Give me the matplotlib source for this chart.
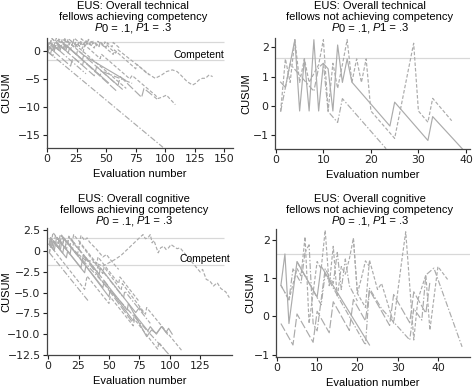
import matplotlib

matplotlib.use("Agg")
import matplotlib.pyplot as plt
from matplotlib import font_manager as fm
from matplotlib.offsetbox import AnnotationBbox, HPacker, TextArea

plt.rcParams.update(
    {
        "font.family": "Liberation Sans",
        "font.size": 7.5,
        "axes.spines.top": False,
        "axes.spines.right": False,
    }
)


def find_face(style):
    # pick the normal-width Liberation Sans file, not the Narrow one
    for f in fm.fontManager.ttflist:
        if (f.name == "Liberation Sans" and "narrow" not in f.fname.lower()
                and f.style == style and f.weight in (400, "normal", "regular")):
            return f.fname
    return None


REG_FILE = find_face("normal")
ITA_FILE = find_face("italic")


def fp(size, italic=False):
    path = ITA_FILE if italic else REG_FILE
    if path:
        return fm.FontProperties(fname=path, size=size)
    return fm.FontProperties(family="Liberation Sans", style="italic" if italic else "normal",
                             size=size)


LINE = "#ababab"
REF = "#d8d8d8"
DASH = {
    "s": "-",
    "d": (0, (3, 1.6)),
    "dd": (0, (5, 1.6, 1.2, 1.6)),
    "ld": (0, (7, 2)),
}

H_UP = 1.63
H_LO = -1.63

# ---- top left: technical, achieving competency
TL1_X = [1, 98]
TL1_Y = [-0.19, -17.2]
TL2_X = [1, 4, 5, 9, 10, 14, 15, 20, 22, 26, 27, 31, 32, 36, 37, 42, 43, 48, 49, 53, 58, 60,
         87, 91.5, 97, 101, 106, 110, 113, 118.5, 123, 125.6, 128.4, 131.3, 134, 137, 140]
TL2_Y = [0.81, 0.25, 1.06, 0.3, 1.1, 0.35, 1.15, 0.25, 1.6, 0.85, 1.66, 0.9, 1.72, 0.95, 1.8, 0.9,
         1.7, 0.8, 1.6, 0.5, -0.4, 0.2, -4.3, -4.9, -4.3, -3.7, -3.4, -3.7, -4.3, -5.5, -6.1, -5.8,
         -5.2, -4.9, -4.9, -4.3, -4.6]
TL3_X = [1, 3, 4, 7, 8, 12, 13, 18, 19, 24, 25, 30, 31, 36, 45, 46, 70, 72, 91.5, 94, 98, 101, 108.5]
TL3_Y = [0.81, 0.43, 1.24, 0.7, 1.5, 0.75, 1.55, 0.6, 1.4, 0.5, 1.3, 0.4, 1.2, 0.3, -1.4, -0.6,
         -5.0, -4.4, -7.9, -8.5, -8.2, -7.9, -9.6]
TL4_X = [1, 3, 4, 6, 7, 10, 11, 15, 16, 20, 59]
TL4_Y = [-0.19, -0.56, 0.25, -0.12, 0.7, 0.14, 0.95, 0.2, 1.0, 0.25, -7.2]
TL5_X = [1, 2, 3, 4, 8, 9, 14, 15, 19, 20, 26, 67]
TL5_Y = [0.81, 1.62, 1.43, 2.2, 1.45, 2.0, 1.1, 1.9, 1.15, 1.8, 0.7, -6.7]
TL6_X = [1, 2, 3, 7, 8, 13, 30, 31, 45, 46, 72]
TL6_Y = [-0.19, 0.62, 1.43, 0.7, 1.5, 0.57, -2.6, -1.8, -4.4, -3.6, -5.8]
TL7_X = [1, 5, 6, 11, 12, 16, 17, 30, 31, 66]
TL7_Y = [0.81, 0.07, 0.88, -0.05, 0.77, 0.03, 0.85, -1.6, -0.8, -5.2]
TL8_X = [1, 5, 6, 20, 21, 22, 40, 41, 42, 60, 61, 62, 80, 81, 82, 93]
TL8_Y = [-0.19, -0.93, -0.12, -2.72, -1.9, -1.1, -4.45, -3.64, -2.83, -6.2, -5.4, -4.6, -8.3,
         -7.5, -6.7, -8.6]
TL9_X = [1, 2, 6, 7, 12, 13, 17, 18, 23, 24, 28, 29, 33, 34, 38, 39, 44, 45, 50, 56, 57, 75, 76, 86]
TL9_Y = [0.81, 1.62, 0.88, 1.69, 0.76, 1.57, 0.83, 1.64, 0.7, 1.51, 0.77, 1.58, 0.84, 1.65, 0.9,
         1.71, 0.78, 1.59, 0.47, -0.65, 0.16, -3.2, -2.4, -4.3]
TL10_X = [1, 2, 6, 7, 12, 33]
TL10_Y = [-0.19, 0.62, -0.12, 0.7, -0.23, -4.1]
TL11_X = [1, 3, 4, 9, 10, 14, 15, 52]
TL11_Y = [0.81, 0.44, 1.25, 0.32, 1.13, 0.39, 1.2, -5.7]
TL12_X = [1, 2, 3, 8, 9, 10, 14, 15, 30, 31, 32, 33, 40, 41, 44, 45, 50, 51, 55, 56, 62]
TL12_Y = [0.81, 1.62, 1.43, 0.5, 1.3, 2.1, 1.36, 2.17, -0.6, 0.2, 1.0, 1.8, 0.5, 1.3, 0.74, 1.55,
          0.62, 1.43, 0.7, 1.5, 0.38]
TL13_X = [1, 2, 5, 6, 10, 11, 18, 19, 25, 26, 64]
TL13_Y = [0.81, 0.62, 0.06, 0.87, 0.12, 0.93, -0.37, 0.44, -0.67, 0.14, -6.9]
TL14_X = [1, 2, 3, 4, 7, 8, 9, 12, 13, 17, 18, 22, 23, 24, 28, 29, 34, 35, 40]
TL14_Y = [0.81, 1.62, 1.43, 2.24, 1.68, 2.3, 1.9, 1.35, 2.16, 1.4, 2.2, 1.46, 2.27, 2.1, 1.35,
          2.16, 1.23, 2.04, 1.1]

TL_LINES = [
    (TL1_X, TL1_Y, "dd"), (TL2_X, TL2_Y, "d"), (TL3_X, TL3_Y, "d"), (TL4_X, TL4_Y, "ld"),
    (TL5_X, TL5_Y, "d"), (TL6_X, TL6_Y, "dd"), (TL7_X, TL7_Y, "s"), (TL8_X, TL8_Y, "ld"),
    (TL9_X, TL9_Y, "d"), (TL10_X, TL10_Y, "dd"), (TL11_X, TL11_Y, "s"), (TL12_X, TL12_Y, "d"),
    (TL13_X, TL13_Y, "ld"), (TL14_X, TL14_Y, "d"),
]

# ---- top right: technical, not achieving competency
TR1_X = [1, 2, 4, 5, 6, 7, 8, 9, 10, 11, 12, 13, 14, 15, 16, 24, 25, 32, 33, 39.5]
TR1_Y = [0.81, 0.63, 2.25, -0.17, 1.6, -0.17, 2.25, -0.17, 1.44, 1.26, -0.17, 2.07, 0.8, 1.6,
         0.81, -0.68, 0.13, -1.17, -0.36, -1.5]
TR2_X = [1, 2, 3, 4, 5, 6, 7, 9, 10, 11, 12, 13, 14, 15, 16, 17, 18, 19, 20, 25, 29, 30, 32, 33, 37]
TR2_Y = [-0.19, 1.6, 0.8, 2.25, 0.8, 1.6, 0.8, 1.4, 2.25, -0.17, 1.45, 0.6, 1.4, 2.25, 0.8, 1.6,
         0.8, 1.6, -0.17, -1.1, 2.13, -0.17, -0.55, 0.26, -0.5]
TR3_X = [1, 2, 3, 4, 5, 8, 9, 10, 11, 13, 14, 23.2]
TR3_Y = [-0.19, 0.62, 1.43, 1.24, 1.05, 0.5, 1.31, 1.45, -0.19, -0.56, 0.25, -1.45]

TR_LINES = [(TR1_X, TR1_Y, "s"), (TR2_X, TR2_Y, "d"), (TR3_X, TR3_Y, "dd")]

# ---- bottom left: cognitive, achieving competency
BL1_X = [1, 3, 4, 8, 9, 14, 15, 20, 25, 30, 35, 40, 45, 50, 55, 60, 65, 70, 75, 78, 80, 82, 84,
         85.5, 87, 90.5, 92.5, 95, 97, 99, 101, 103, 106, 108.5, 125, 127, 130, 133, 136, 139,
         142, 146, 149]
BL1_Y = [0.81, 0.44, 1.25, 0.5, 1.3, 0.4, 1.2, 0.3, -0.4, -1.0, -1.2, -1.5, -1.8, -1.4, -1.0,
         -0.5, 0.2, 0.9, 1.6, 2.0, 1.5, 1.6, 2.0, 1.0, 1.3, -0.2, 0.4, 0.6, 0.2, 0.4, 0.8, 0.6,
         0.3, 0.4, -2.5, -2.2, -3.4, -3.6, -4.2, -3.8, -4.5, -4.9, -5.6]
BL2_X = [1, 2, 3, 8, 9, 14, 15, 20, 99]
BL2_Y = [0.81, 0.62, 1.43, 0.5, 1.3, 0.37, 1.18, 0.25, -12.4]
BL3_X = [1, 2, 3, 4, 9, 10, 16, 17, 25, 26, 45, 46, 60, 61, 80, 81, 110]
BL3_Y = [0.81, 1.62, 1.43, 2.24, 1.3, 2.0, 0.9, 1.7, 0.2, 1.0, -2.7, -1.9, -4.7, -3.9, -7.6,
         -6.8, -12.0]
BL4_X = [1, 5, 6, 15, 16, 30, 31, 50, 51, 70, 71, 82, 84, 89, 93, 94, 98]
BL4_Y = [0.81, 0.07, 0.88, -0.8, 0.0, -2.6, -1.8, -5.5, -4.7, -8.4, -7.6, -9.6, -9.1, -10.0,
         -9.1, -9.2, -10.0]
BL5_X = [1, 33]
BL5_Y = [-0.19, -6.0]
BL6_X = [1, 2, 6, 7, 12, 13, 18, 19, 69]
BL6_Y = [0.81, 1.62, 0.88, 1.69, 0.76, 1.57, 0.64, 1.45, -8.5]
BL7_X = [1, 2, 3, 7, 8, 12, 13, 24, 25, 26, 40, 41, 58, 59, 75]
BL7_Y = [-0.19, 0.62, 1.43, 0.7, 1.5, 0.76, 1.57, -0.5, 0.3, 1.1, -1.5, -0.7, -3.9, -3.1, -6.1]
BL8_X = [1, 4, 5, 10, 11, 18, 19, 28, 29, 42, 43, 66, 72, 75, 78]
BL8_Y = [0.81, 0.25, 1.06, 0.13, 0.94, -0.36, 0.45, -1.2, -0.4, -2.8, -2.0, -6.3, -7.4, -6.8, -7.4]
BL9_X = [1, 2, 3, 6, 7, 11, 12, 13, 20, 21, 40, 41, 62, 63, 84]
BL9_Y = [0.81, 1.62, 1.43, 0.87, 1.68, 0.94, 1.75, 1.56, 0.26, 1.07, -2.5, -1.7, -5.6, -4.8, -8.7]
BL10_X = [1, 2, 5, 6, 10, 11, 16, 17, 20, 21, 22, 26, 27, 30, 32, 34, 40, 45, 48, 50, 55, 58]
BL10_Y = [0.81, 1.62, 1.06, 1.87, 1.13, 1.94, 1.0, 1.81, 1.25, 2.0, 1.8, 1.1, 1.9, 1.3, 1.6, 1.1,
          0.2, -0.7, -0.4, -0.8, -1.7, -2.2]
BL11_X = [1, 2, 3, 4, 9, 10, 15, 16, 30, 31, 49]
BL11_Y = [0.81, 0.62, 1.43, 1.24, 0.3, 1.1, 0.17, 0.98, -1.6, -0.8, -4.1]
BL12_X = [1, 3, 4, 12, 13, 27, 28, 45, 46, 65, 66, 81, 85, 89, 93.4, 97, 99, 102]
BL12_Y = [0.81, 0.44, 1.25, -0.24, 0.57, -2.0, -1.2, -4.4, -3.6, -7.1, -6.3, -10.3, -9.5, -9.9,
          -9.1, -9.8, -9.3, -10.0]
BL13_X = [1, 2, 3, 30, 31, 32, 50, 51, 70, 71, 90, 91, 96]
BL13_Y = [-0.19, 0.62, 0.43, -4.6, -3.8, -3.0, -6.3, -5.5, -9.0, -8.2, -11.8, -11.0, -11.9]

BL_LINES = [
    (BL1_X, BL1_Y, "d"), (BL2_X, BL2_Y, "dd"), (BL3_X, BL3_Y, "d"), (BL4_X, BL4_Y, "s"),
    (BL5_X, BL5_Y, "dd"), (BL6_X, BL6_Y, "ld"), (BL7_X, BL7_Y, "d"), (BL8_X, BL8_Y, "s"),
    (BL9_X, BL9_Y, "dd"), (BL10_X, BL10_Y, "d"), (BL11_X, BL11_Y, "ld"), (BL12_X, BL12_Y, "s"),
    (BL13_X, BL13_Y, "d"),
]

# ---- bottom right: cognitive, not achieving competency
BR1_X = [1, 2, 3, 5, 10, 11, 23]
BR1_Y = [0.81, 1.63, -0.19, 1.43, 0.5, 1.31, -0.75]
BR2_X = [1, 4, 5, 9, 10, 13, 14, 18, 19, 22, 23, 28, 29, 33, 34, 37, 38]
BR2_Y = [-0.19, -0.75, 0.06, -0.68, 0.13, -0.43, 0.38, -0.37, 0.44, -0.12, 0.69, -0.24, 0.57,
         -0.17, 0.64, 0.08, 0.89]
BR3_X = [1, 3, 5, 6, 7, 8, 9, 10, 11, 12, 13, 14, 15, 16, 17, 18, 19, 20, 21, 22, 23]
BR3_Y = [0.81, 0.43, 1.25, 1.06, 2.08, -0.19, 0.62, 1.43, 1.24, 2.25, 0.8, 1.83, 0.5, 1.3, 1.1,
         1.5, 2.04, 0.6, 1.0, 1.45, 1.3]
BR4_X = [19, 20, 22, 23, 25, 26, 29, 30, 31, 32, 34, 35, 37, 38, 40, 42.5]
BR4_Y = [2.04, 0.6, 0.23, 1.47, 0.7, 0.86, -0.18, 0.63, 1.44, 2.21, -0.62, 0.43, 1.08, -0.36,
         1.3, 0.95]
BR5_X = [5, 11, 12, 22, 23, 26, 33, 34, 36, 37, 39, 46]
BR5_Y = [1.43, 0.3, 1.11, -0.75, 0.73, 0.2, -0.62, 0.2, -0.1, 1.08, 1.26, -0.8]
BR6_X = [1, 2, 3, 4, 6, 7, 8, 9, 10, 11, 12, 13, 14, 15, 16, 17, 18, 20]
BR6_Y = [0.81, 0.62, 0.43, 1.24, 0.87, 1.68, 1.87, -0.19, -0.38, 0.43, 1.24, 1.05, 0.86, 1.67,
         0.7, 1.5, 0.8, 0.4]

BR_LINES = [(BR1_X, BR1_Y, "s"), (BR2_X, BR2_Y, "ld"), (BR3_X, BR3_Y, "d"),
            (BR4_X, BR4_Y, "d"), (BR5_X, BR5_Y, "dd"), (BR6_X, BR6_Y, "dd")]

TITLE_TOP = ["EUS: Overall technical", "EUS: Overall technical",
             "EUS: Overall cognitive", "EUS: Overall cognitive"]
TITLE_MID = ["fellows achieving competency", "fellows not achieving competency",
             "fellows achieving competency", "fellows not achieving competency"]
# subtitle pieces: (text, italic)
SUBTITLE = [("P", True), ("0 = .1, ", False), ("P", True), ("1 = .3", False)]

BL_YTICKS = [2.5, 0, -2.5, -5, -7.5, -10, -12.5]
BL_YLABELS = ["2.5", "0", "\u22122.5", "\u22125.0", "\u22127.5", "\u221210.0", "\u221212.5"]

W, H = 474, 387
TSIZE = 8.0
LSIZE = 8.0


def draw(ax, lines, idx, cx, ty, xlim, ylim, xticks, yticks, ylab_px, href_end,
         competent=None, ylabels=None):
    ax.hlines(H_UP, xlim[0], href_end, color=REF, lw=0.9, zorder=1)
    if competent is not None:
        ax.hlines(H_LO, xlim[0], href_end, color=REF, lw=0.9, zorder=1)
        ax.text(competent[0], competent[1], "Competent", ha="right", va="center",
                fontproperties=fp(7.5))
    for xs, ys, st in lines:
        ax.plot(xs, ys, color=LINE, lw=0.85, linestyle=DASH[st], zorder=2)
    ax.set_xlim(*xlim)
    ax.set_ylim(*ylim)
    ax.set_xticks(xticks)
    ax.set_yticks(yticks)
    if ylabels is not None:
        ax.set_yticklabels(ylabels)

    for k, txt in enumerate([TITLE_TOP[idx], TITLE_MID[idx]]):
        fig.text(cx / W, 1 - (ty + 11.3 * k) / H, txt, ha="center", va="center",
                 fontproperties=fp(TSIZE))
    parts = [TextArea(t, textprops=dict(fontproperties=fp(TSIZE, it))) for t, it in SUBTITLE]
    box = HPacker(children=parts, align="baseline", pad=0, sep=0)
    ab = AnnotationBbox(box, (cx / W, 1 - (ty + 22.6) / H), xycoords="figure fraction",
                        box_alignment=(0.5, 0.5), frameon=False, pad=0)
    fig.add_artist(ab)

    bb = ax.get_position()
    xl = ax.set_xlabel("Evaluation number", fontproperties=fp(LSIZE))
    xl.set_va("center")
    ax.xaxis.set_label_coords(0.5, -26 / (bb.height * H))
    yl = ax.set_ylabel("CUSUM", fontproperties=fp(LSIZE))
    yl.set_va("center")
    ax.yaxis.set_label_coords((ylab_px - bb.x0 * W) / (bb.width * W), 0.5)
    ax.tick_params(length=3, width=0.8, pad=1.5, labelsize=7.8, colors="#222222")
    for lab in ax.get_xticklabels() + ax.get_yticklabels():
        lab.set_family("DejaVu Sans")
        lab.set_size(7.8)
    for sp in ("left", "bottom"):
        ax.spines[sp].set_color("#444444")
        ax.spines[sp].set_linewidth(0.9)


fig = plt.figure(figsize=(W / 100, H / 100), dpi=100)
ax_tl = fig.add_axes([0.099, 0.618, 0.392, 0.284])
ax_tr = fig.add_axes([0.580, 0.615, 0.411, 0.287])
ax_bl = fig.add_axes([0.099, 0.083, 0.390, 0.328])
ax_br = fig.add_axes([0.582, 0.078, 0.409, 0.330])

draw(ax_tl, TL_LINES, 0, 133, 5.7, (0, 157), (-17.3, 2.3), [0, 25, 50, 75, 100, 125, 150],
     [0, -5, -10, -15], 6, 150, competent=(150, -0.7))
draw(ax_tr, TR_LINES, 1, 370, 5.7, (-0.2, 40.8), (-1.46, 2.31), [0, 10, 20, 30, 40],
     [2, 1, 0, -1], 246, 40.8)
draw(ax_bl, BL_LINES, 2, 134, 198.7, (-1, 151), (-12.5, 2.8), [0, 25, 50, 75, 100, 125],
     BL_YTICKS, 6, 145, competent=(150, -1.0), ylabels=BL_YLABELS)
draw(ax_br, BR_LINES, 3, 370, 198.7, (-0.25, 47.9), (-1.06, 2.28), [0, 10, 20, 30, 40],
     [2, 1, 0, -1], 250, 47.9)

fig.savefig("out.png", dpi=100)
